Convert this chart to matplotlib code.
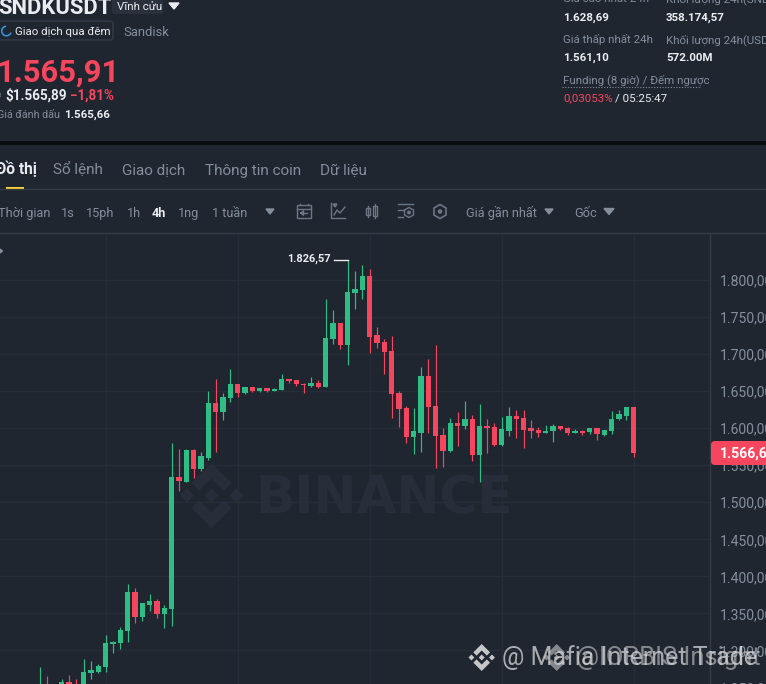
"""
Binance SNDKUSDT perpetual screen, 4h candles
Output : out.png
"""

# ==========================================================
# IMPORTS
# ==========================================================

import matplotlib
matplotlib.use("Agg")

import matplotlib.pyplot as plt
from matplotlib.patches import Arc, Circle, FancyBboxPatch, Polygon, Rectangle

# ==========================================================
# DATA
# ==========================================================

opens = [
    1244, 1252, 1238, 1244, 1258, 1252, 1247, 1270.1, 1271.4, 1277.7,
    1308.8, 1310.5, 1326.7, 1378.6, 1345.6, 1361.8, 1366.8, 1348.9, 1356.4, 1533.7,
    1527.8, 1571, 1544.5, 1560.2, 1634.4, 1621.9, 1640.4, 1659.2, 1647.5, 1655.2,
    1649.8, 1653.9, 1650.2, 1651.6, 1666, 1665, 1660.1, 1657.4, 1660.6, 1656,
    1720.4, 1742, 1711.9, 1782.5, 1786.1, 1805.8, 1725.4, 1716.3, 1704.6, 1647.5,
    1627.3, 1587.7, 1593.5, 1670.4, 1630, 1590.8, 1568.8, 1606.6, 1602.6, 1612,
    1564.2, 1602.6, 1602, 1576.9, 1596.6, 1616.1, 1613.4, 1599.9, 1598, 1593.5,
    1595.8, 1602.6, 1599.9, 1593.1, 1595.8, 1594.9, 1599.9, 1591.2, 1596.6, 1612,
    1616.5, 1628,
]

highs = [
    1278, 1266, 1244, 1262, 1267, 1262, 1288, 1285.8, 1282.2, 1320.5,
    1312.8, 1331.7, 1389.3, 1384.8, 1364.5, 1376.3, 1369.9, 1361.8, 1580.4, 1572.3,
    1571.5, 1571.5, 1568.3, 1649.8, 1666.8, 1647.5, 1680.3, 1659.6, 1656, 1655.6,
    1654.3, 1654.3, 1653.9, 1673.6, 1666.4, 1665.4, 1660.6, 1669.1, 1665, 1774,
    1759.1, 1742.4, 1826.57, 1812.6, 1820.2, 1814.8, 1736.2, 1720, 1724.4, 1649.8,
    1629.6, 1626.9, 1682.6, 1693, 1711.9, 1600.3, 1613.8, 1621.9, 1636.7, 1617.4,
    1632.3, 1612.4, 1607.4, 1615.1, 1628.2, 1624.6, 1625, 1611.5, 1602, 1603.9,
    1605.7, 1603, 1601.2, 1598.9, 1597.6, 1600.3, 1600.3, 1598, 1623.2, 1624.6,
    1628.69, 1628.69,
]

lows = [
    1240, 1240, 1232, 1240, 1240, 1240, 1240, 1261.1, 1270, 1271,
    1296.2, 1301.6, 1311.9, 1336.7, 1340.2, 1353.7, 1344.3, 1330.8, 1333.1, 1515.7,
    1527, 1532.8, 1542.2, 1557.5, 1568.3, 1610.7, 1635, 1642.5, 1646.2, 1648.9,
    1649.3, 1648.9, 1649.8, 1651.2, 1661, 1657, 1647.1, 1656, 1653.9, 1656,
    1713.6, 1706.9, 1685.7, 1760.9, 1774.4, 1701.1, 1708.6, 1673.1, 1614.2, 1602,
    1580, 1565.6, 1567.9, 1593.1, 1545.9, 1547.6, 1568.3, 1575.6, 1598.9, 1556.1,
    1527.8, 1566.9, 1576.4, 1576, 1589.1, 1586.8, 1572.9, 1587.2, 1588.5, 1593.1,
    1581.4, 1597.2, 1590.4, 1593.1, 1590.8, 1591.8, 1584.1, 1589.5, 1591.8, 1610.7,
    1611.1, 1560.7,
]

closes = [
    1252, 1244, 1242, 1258, 1244, 1244, 1271, 1273.3, 1279.1, 1310.1,
    1311.9, 1327.7, 1378.6, 1345.6, 1363.7, 1366.8, 1348.9, 1357.4, 1533.5, 1528.3,
    1571, 1545.3, 1562.5, 1634.4, 1621.9, 1641.7, 1659.2, 1647.5, 1655.2, 1649.8,
    1653.9, 1650.2, 1653.3, 1666, 1663.3, 1659.2, 1657.9, 1660.6, 1656, 1721.7,
    1742, 1711.9, 1784.2, 1787.4, 1805.8, 1723.5, 1715, 1702.8, 1645.9, 1625.9,
    1587.7, 1595.8, 1670.4, 1628.6, 1589.5, 1569.2, 1606.6, 1603, 1612, 1564.2,
    1602.6, 1599.9, 1576.9, 1598.5, 1616.1, 1612, 1598, 1596.6, 1593.1, 1596.6,
    1602.6, 1598.9, 1593.5, 1595.8, 1593.1, 1599.9, 1591.8, 1597.2, 1612.8, 1618.8,
    1628.2, 1566.6,
]

price_ticks = [1800, 1750, 1700, 1650, 1600, 1550, 1500, 1450, 1400, 1350, 1300, 1250]
price_labels = [
    "1.800,00", "1.750,00", "1.700,00", "1.650,00", "1.600,00", "1.550,00",
    "1.500,00", "1.450,00", "1.400,00", "1.350,00", "1.300,00", "1.250,00",
]
time_grid = [9, 27, 45, 63, 81]

high_label = "1.826,57"
last_label = "1.566,66"

tabs = ["Sổ lệnh", "Giao dịch", "Thông tin coin", "Dữ liệu"]
intervals = ["1s", "15ph", "1h", "1ng", "1 tuần"]

# ==========================================================
# COLOURS
# ==========================================================

BG = "#1F2630"
GRID = "#272E39"
LINE = "#353C48"
GREEN = "#2EBD85"
RED = "#F6465D"
WHITE = "#EAECEF"
GREY = "#848E9C"
ICON = "#6C7684"
MARK = "#282E39"

plt.rcParams["font.family"] = ["Roboto", "DejaVu Sans"]

W, H = 766, 684


def px(size):
    return size * 0.72


def label(ax, x, y, text, size=12, color=GREY, weight="normal", ha="left"):
    # y is the middle of the capitals, so accents do not shift the line
    ax.text(x, y + 0.36 * size, text, fontsize=px(size), color=color, weight=weight,
            ha=ha, va="baseline")


# ==========================================================
# BINANCE LOGO
# ==========================================================

def draw_logo(ax, cx, cy, r, color, alpha=1.0, zorder=1):

    top = [(0, -1), (.62, -.38), (.38, -.14), (0, -.52), (-.38, -.14), (-.62, -.38)]
    bottom = [(x, -y) for x, y in top]

    shapes = [top, bottom]

    for dx in (-.76, 0, .76):
        shapes.append([(dx, -.22), (dx + .22, 0), (dx, .22), (dx - .22, 0)])

    for shape in shapes:
        pts = [(cx + x * r, cy + y * r) for x, y in shape]
        ax.add_patch(Polygon(pts, closed=True, facecolor=color, edgecolor="none",
                             alpha=alpha, zorder=zorder))


# ==========================================================
# CANDLES
# ==========================================================

def draw_candles(ax):

    idx = list(range(len(closes)))
    colors = [GREEN if c >= o else RED for o, c in zip(opens, closes)]

    ax.vlines(idx, lows, highs, colors=colors, linewidth=0.85, zorder=3)

    ax.bar(
        idx,
        [max(abs(c - o), 1.0) for o, c in zip(opens, closes)],
        bottom=[min(o, c) for o, c in zip(opens, closes)],
        width=0.76,
        color=colors,
        linewidth=0,
        zorder=4,
    )

    top = highs.index(max(highs))
    ax.plot([top - 1.9, top], [highs[top], highs[top]], color=WHITE, linewidth=1.0, zorder=5)
    ax.text(top - 2.3, highs[top] + 1.5, high_label, color=WHITE, fontsize=px(11),
            weight="bold", ha="right", va="center", zorder=5)


def build_chart(fig):

    # 0..710 px wide, top at 233 px, runs past the bottom of the picture
    ax = fig.add_axes([0, (H - 700) / H, 710.3 / W, (700 - 233) / H])
    ax.patch.set_alpha(0)
    ax.set_zorder(1)

    ax.set_xlim(-5.41, 91.45)
    ax.set_ylim(1233.2, 1863.4)

    ax.set_xticks(time_grid)
    ax.set_xticklabels([])
    ax.set_yticks(price_ticks)
    ax.set_yticklabels(price_labels)

    ax.yaxis.tick_right()
    ax.tick_params(axis="x", length=0)
    ax.tick_params(axis="y", length=0, pad=6.8, labelsize=px(14), labelcolor=GREY)

    ax.grid(True, color=GRID, linewidth=1.0, zorder=0)
    ax.set_axisbelow(True)

    for side in ("top", "left", "bottom"):
        ax.spines[side].set_visible(False)

    ax.spines["right"].set_color(LINE)
    ax.spines["right"].set_linewidth(1.0)

    draw_candles(ax)

    return ax


# ==========================================================
# TOOLBAR ICONS
# ==========================================================

def draw_icons(ax):

    kw = dict(color=ICON, linewidth=1.0)

    # calendar
    ax.add_patch(Rectangle((297, 205), 14, 13, fill=False, edgecolor=ICON, linewidth=1.0))
    ax.plot([297, 311], [208.5, 208.5], **kw)
    ax.plot([300, 300], [203.5, 205], **kw)
    ax.plot([308, 308], [203.5, 205], **kw)
    ax.plot([301, 307], [213, 213], **kw)
    ax.plot([301, 303.5, 303.5, 301], [213, 210.8, 215.2, 213], **kw)

    # line chart
    ax.plot([331, 331, 345], [203, 218, 218], **kw)
    ax.plot([334, 337, 340, 345], [215, 210, 213, 207], **kw)
    ax.add_patch(Polygon([(333, 204), (337, 204), (335, 207)], color=ICON))

    # candles
    ax.add_patch(Rectangle((366, 208), 3.5, 7, fill=False, edgecolor=ICON, linewidth=1.0))
    ax.add_patch(Rectangle((373, 206), 3.5, 9.5, fill=False, edgecolor=ICON, linewidth=1.0))
    ax.plot([367.7, 367.7], [206, 217], **kw)
    ax.plot([374.8, 374.8], [204, 218], **kw)

    # indicators
    ax.plot([398, 413], [203.5, 203.5], **kw)
    ax.plot([398, 404], [210, 210], **kw)
    ax.plot([398, 403], [217, 217], **kw)
    ax.add_patch(Polygon([(409, 207.5), (413.5, 210), (413.5, 215), (409, 217.5),
                          (404.5, 215), (404.5, 210)],
                         fill=False, edgecolor=ICON, linewidth=1.0))
    ax.add_patch(Circle((409, 212.5), 1.3, color=ICON))

    # hexagon
    ax.add_patch(Polygon([(440, 204.5), (446, 208), (446, 215), (440, 218.5),
                          (434, 215), (434, 208)],
                         fill=False, edgecolor=ICON, linewidth=1.2))
    ax.add_patch(Circle((440, 211.5), 1.6, color=ICON))


# ==========================================================
# HEADER
# ==========================================================

def build_header(ax):

    label(ax, -2, 6, "SNDKUSDT", size=22, color=WHITE, weight="bold")

    ax.add_patch(FancyBboxPatch((112, -6), 51, 20, boxstyle="round,pad=0,rounding_size=2",
                                facecolor="#2A313C", edgecolor="none"))
    label(ax, 117, 6, "Vĩnh cửu", size=11.5, color=WHITE)
    ax.add_patch(Polygon([(169, 3), (179, 3), (174, 9)], color=WHITE))

    ax.add_patch(FancyBboxPatch((-6, 21), 119, 19, boxstyle="round,pad=0,rounding_size=3",
                                facecolor="none", edgecolor=LINE, linewidth=1.0))
    ax.add_patch(Arc((6.5, 31), 9.5, 9.5, theta1=20, theta2=265, color="#2F9BE8", linewidth=1.1))
    label(ax, 15, 31, "Giao dịch qua đêm", size=11.5, color=WHITE)
    label(ax, 123, 31.5, "Sandisk", size=13)

    label(ax, -4, 70, "1.565,91", size=31, color=RED, weight="bold")
    label(ax, -7, 94, "≈", size=13, color=WHITE)
    label(ax, 5, 94.5, "$1.565,89", size=13.5, color=WHITE, weight="bold")
    label(ax, 70, 94.5, "−1,81%", size=13.5, color=RED, weight="bold")
    label(ax, -3, 114, "Giá đánh dấu", size=10.8)
    label(ax, 64, 114, "1.565,66", size=11.5, color=WHITE, weight="bold")

    # 24h stats
    label(ax, 563, -2, "Giá cao nhất 24h", size=11.5)
    label(ax, 666, -2, "Khối lượng 24h(SNDK)", size=11.5)
    label(ax, 563, 17, "1.628,69", size=11.5, color=WHITE, weight="bold")
    label(ax, 666, 17, "358.174,57", size=11.5, color=WHITE, weight="bold")
    label(ax, 563, 39, "Giá thấp nhất 24h", size=11.5)
    label(ax, 666, 39, "Khối lượng 24h(USDT)", size=11.5)
    label(ax, 563, 57, "1.561,10", size=11.5, color=WHITE, weight="bold")
    label(ax, 666, 57, "572.00M", size=11.5, color=WHITE, weight="bold")
    label(ax, 563, 79, "Funding (8 giờ) / Đếm ngược", size=11.5)
    ax.plot([562, 701], [87, 87], color=GREY, linewidth=0.8, linestyle=(0, (1, 1.5)))
    label(ax, 563, 97, "0,03053%", size=11.5, color=RED)
    label(ax, 615, 97, "/ 05:25:47", size=11.5, color=WHITE)

    # black band between header and chart
    ax.add_patch(Rectangle((0, 141), W, 4, facecolor="#0B0E11", edgecolor="none"))

    # tabs
    label(ax, -4, 169, "Đồ thị", size=15.5, color=WHITE, weight="bold")
    for x, text in zip([53, 122, 205, 320], tabs):
        label(ax, x, 169, text, size=15.3)

    ax.plot([0, W], [188.5, 188.5], color=LINE, linewidth=1.0)
    ax.add_patch(Rectangle((6, 186.5), 18, 3, facecolor="#FCD535", edgecolor="none"))

    # toolbar
    label(ax, -2, 212, "Thời gian", size=12.7)
    for x, text in zip([61, 86, 127, 178, 212], intervals):
        label(ax, x, 212, text, size=12.7)
    label(ax, 152, 212, "4h", size=12.7, color=WHITE, weight="bold")
    ax.add_patch(Polygon([(266, 209), (274, 209), (270, 214)], color=GREY))

    draw_icons(ax)

    label(ax, 466, 212, "Giá gần nhất", size=12.7)
    ax.add_patch(Polygon([(545, 209), (553, 209), (549, 214)], color=GREY))
    label(ax, 574, 212, "Gốc", size=12.7)
    ax.add_patch(Polygon([(604, 208.5), (614, 208.5), (609, 214.5)], color=GREY))

    ax.plot([0, W], [232.5, 232.5], color=LINE, linewidth=1.0)
    ax.add_patch(Polygon([(0, 249), (2.5, 251), (0, 253)], color=GREY))


# ==========================================================
# MAIN
# ==========================================================

def main():

    fig = plt.figure(figsize=(W / 100, H / 100), dpi=100, facecolor=BG)

    # pixel layer under the candles, for the big watermark
    back = fig.add_axes([0, 0, 1, 1])
    back.set_xlim(0, W)
    back.set_ylim(H, 0)
    back.axis("off")
    back.set_zorder(0)

    draw_logo(back, 211.5, 495.5, 32.5, MARK)
    back.text(255, 514, "BINANCE", fontsize=px(51.5), color=MARK, weight="bold",
              family="DejaVu Sans", ha="left", va="baseline")

    build_chart(fig)

    # pixel layer on top, for the screen furniture
    top = fig.add_axes([0, 0, 1, 1])
    top.set_xlim(0, W)
    top.set_ylim(H, 0)
    top.axis("off")
    top.patch.set_alpha(0)
    top.set_zorder(2)

    build_header(top)

    # last price tag over the axis
    top.add_patch(FancyBboxPatch((711, 441), 70, 24, boxstyle="round,pad=0,rounding_size=4",
                                 facecolor=RED, edgecolor="none"))
    label(top, 720, 453, last_label, size=14, color="#FFFFFF", weight="bold")

    # two overlapping repost watermarks
    draw_logo(top, 481.7, 657.5, 13.5, "#D9D9D9", alpha=0.9, zorder=6)
    top.text(502, 665.5, "@ Mafia Internet Trade", fontsize=px(25), color="#D9D9D9",
             alpha=0.75, ha="left", va="baseline", zorder=6)
    draw_logo(top, 556.7, 657.5, 13.5, "#D9D9D9", alpha=0.55, zorder=6)
    top.text(576, 665.5, "@IORBIS Insight", fontsize=px(25.5), color="#D9D9D9",
             alpha=0.55, ha="left", va="baseline", zorder=6)

    fig.savefig("out.png", dpi=100, facecolor=BG)
    plt.close(fig)


# ==========================================================
# DRIVER
# ==========================================================

if __name__ == "__main__":

    main()
